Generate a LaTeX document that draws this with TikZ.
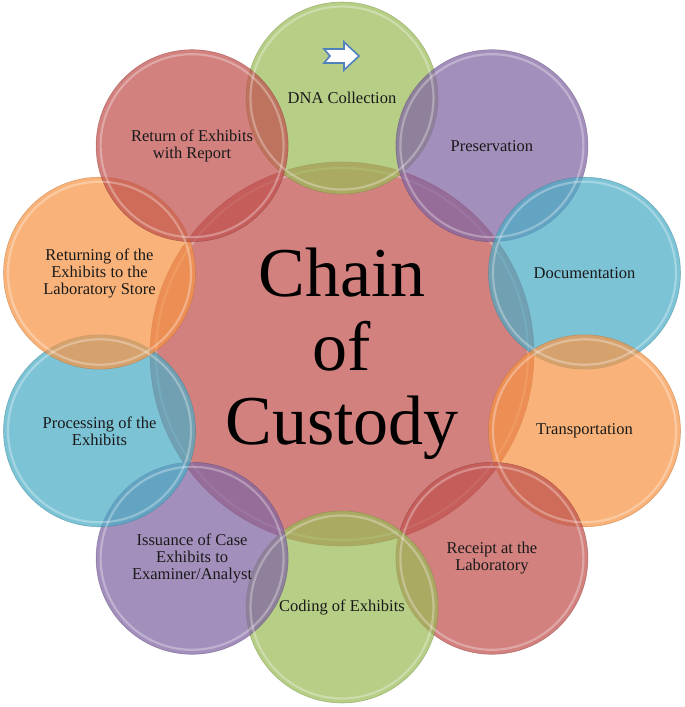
\documentclass[tikz,border=0pt]{standalone}
\usepackage{fontspec}
\setmainfont{Liberation Serif}
\definecolor{cgreen}{RGB}{155,187,89}
\definecolor{cpurple}{RGB}{128,100,162}
\definecolor{cblue}{RGB}{75,172,198}
\definecolor{corange}{RGB}{247,150,70}
\definecolor{cred}{RGB}{192,80,77}
\definecolor{arrowblue}{RGB}{79,129,189}
\begin{document}
\begin{tikzpicture}[x=1pt,y=-1pt,
  disc/.style={circle, inner sep=0pt, fill=#1, fill opacity=0.72,
    draw=#1!75!black, draw opacity=0.5, line width=0.6pt, text opacity=1,
    align=center, text=black!90},
  petal/.style={disc=#1, minimum size=192pt, font=\fontsize{16.5}{17}\selectfont},
  hub/.style={disc=#1, minimum size=384pt, font=\fontsize{70}{74}\selectfont, text=black},
  gloss/.style={white, draw opacity=0.3, line width=2.2pt},
  arrowicon/.style={draw=arrowblue, fill=white, line width=1.6pt, line join=miter}
]
\useasboundingbox (0,0) rectangle (685,707);

\node[hub=cred] (hubc) at (342,354) {Chain\\of\\Custody};
\draw[gloss] (hubc.center) circle (186pt);

\node[petal=cgreen]  (p1)  at (342,98)      {DNA Collection};
\node[petal=cpurple] (p2)  at (491.9,145.7) {Preservation};
\node[petal=cblue]   (p3)  at (584.5,273.2) {Documentation};
\node[petal=corange] (p4)  at (584.5,430.8) {Transportation};
\node[petal=cred]    (p5)  at (491.9,558.3) {Receipt at the\\Laboratory};
\node[petal=cgreen]  (p6)  at (342,607)     {Coding of Exhibits};
\node[petal=cpurple] (p7)  at (192.1,558.3) {Issuance of Case\\Exhibits to\\Examiner/Analyst};
\node[petal=cblue]   (p8)  at (99.5,430.8)  {Processing of the\\Exhibits};
\node[petal=corange] (p9)  at (99.5,273.2)  {Returning of the\\Exhibits to the\\Laboratory Store};
\node[petal=cred]    (p10) at (192.1,145.7) {Return of Exhibits\\with Report};

\foreach \n in {p1,p2,p3,p4,p5,p6,p7,p8,p9,p10}
  \draw[gloss] (\n.center) circle (91.5pt);

\draw[arrowicon] (324,49) -- (344,49) -- (344,42) -- (359,56) -- (344,70)
  -- (344,63) -- (324,63) -- (330,56) -- cycle;
\end{tikzpicture}
\end{document}
